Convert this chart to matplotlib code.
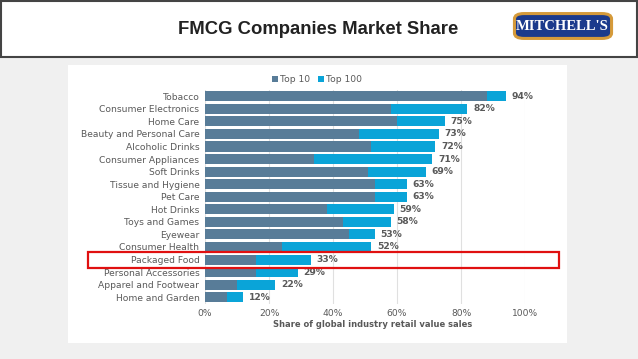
import matplotlib.pyplot as plt
from matplotlib.patches import Rectangle, FancyBboxPatch

# ------------------------------
# Data
categories = ["Tobacco", "Consumer Electronics", "Home Care", "Beauty and Personal Care",
              "Alcoholic Drinks", "Consumer Appliances", "Soft Drinks", "Tissue and Hygiene",
              "Pet Care", "Hot Drinks", "Toys and Games", "Eyewear", "Consumer Health",
              "Packaged Food", "Personal Accessories", "Apparel and Footwear", "Home and Garden"]
top10 = [88, 58, 60, 48, 52, 34, 51, 53, 53, 38, 43, 45, 24, 16, 16, 10, 7]
top100 = [94, 82, 75, 73, 72, 71, 69, 63, 63, 59, 58, 53, 52, 33, 29, 22, 12]
xticks = [0, 20, 40, 60, 80, 100]

DARK = "#587c98"
LIGHT = "#0aa4d8"
GREY = "#595959"
FS = 6.6

W, H = 638, 359
plt.rcParams['font.family'] = ['DejaVu Sans']
fig = plt.figure(figsize=(W / 100, H / 100), dpi=100, facecolor="#f0f0f0")


def fx(px):
    return px / W


def fy(py):
    return 1 - py / H


# ------------------------------
# Header and panel
fig.patches.append(Rectangle((fx(1), fy(57)), fx(636), 56 / H, transform=fig.transFigure,
                             facecolor="white", edgecolor="#444444", lw=1.5, zorder=0))
fig.patches.append(Rectangle((fx(68), fy(343)), fx(499), 278 / H, transform=fig.transFigure,
                             facecolor="white", edgecolor="none", zorder=0))
fig.text(fx(318), fy(29), "FMCG Companies Market Share", ha="center", va="center",
         fontsize=13.3, fontweight="bold", color="#222222", family="Liberation Sans")

# logo
fig.patches.append(FancyBboxPatch((fx(517), fy(37)), fx(92), 22 / H, transform=fig.transFigure,
                                  boxstyle="round,pad=0.004,rounding_size=0.015",
                                  facecolor="#1b3a8c", edgecolor="#d59a3a", lw=2.2, zorder=2))
fig.text(fx(562), fy(26), "MITCHELL'S", ha="center", va="center", fontsize=10.5,
         fontweight="bold", color="white", family="Liberation Serif", zorder=3)

# ------------------------------
# Chart
ax = fig.add_axes([fx(205), fy(303.5), fx(320), 213.5 / H])
ax.set_zorder(3)
ax.set_facecolor("none")
y = list(range(len(categories)))
rest = [t - a for t, a in zip(top100, top10)]
ax.barh(y, top10, height=0.8, color=DARK, label="Top 10", zorder=2)
ax.barh(y, rest, left=top10, height=0.8, color=LIGHT, label="Top 100", zorder=2)
for yi, v in zip(y, top100):
    ax.text(v + 1.8, yi, f"{v}%", va="center", ha="left", fontsize=FS,
            fontweight="bold", color=GREY)

ax.set_ylim(len(categories) - 0.5, -0.5)
ax.set_xlim(0, 100)
ax.set_yticks(y)
ax.set_yticklabels(categories, fontsize=FS, color=GREY)
ax.set_xticks(xticks)
ax.set_xticklabels([f"{t}%" for t in xticks], fontsize=FS, color=GREY)
ax.tick_params(length=0, pad=4)
ax.xaxis.grid(True, color="#e0e0e0", lw=0.8, zorder=0)
for s in ax.spines.values():
    s.set_visible(False)
ax.set_xlabel("Share of global industry retail value sales", fontsize=6.0,
              fontweight="bold", color=GREY, labelpad=1.5)
ax.xaxis.label.set_x(0.525)
ax.legend(loc="lower center", bbox_to_anchor=(0.35, 1.0), ncol=2, frameon=False,
          fontsize=FS, labelcolor=GREY, handlelength=0.6, handleheight=0.6,
          handletextpad=0.2, columnspacing=0.9, borderaxespad=0.2)

# highlight box
fig.patches.append(Rectangle((fx(88), fy(268)), fx(471), 16 / H, transform=fig.transFigure,
                             facecolor="none", edgecolor="#e01010", lw=1.6, zorder=5))

plt.savefig("out.png", dpi=100, facecolor=fig.get_facecolor())
